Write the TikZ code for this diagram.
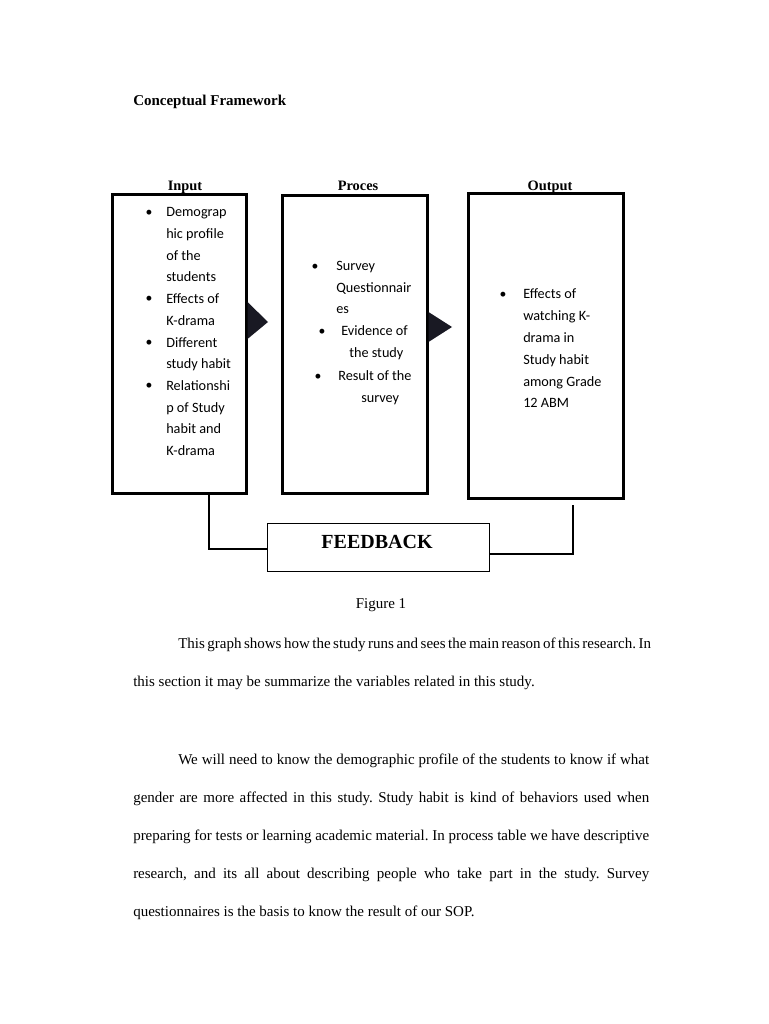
\documentclass[tikz,border=0pt]{standalone}
\usepackage{fontspec}
\setmainfont{Liberation Serif}
\newfontfamily\calibri{Carlito}
\usepackage{tikz}
\frenchspacing

\newcommand\jline[2]{\makebox[#1][s]{#2}}

\begin{document}
\begin{tikzpicture}[x=0.8pt, y=-0.8pt,
    stage/.style={draw, line width=2.4pt, inner sep=0},
    fbbox/.style={draw, line width=0.8pt, inner sep=0},
    headtxt/.style={anchor=base, inner sep=0, font=\bfseries\fontsize{11.5}{13}\selectfont},
    boxtxt/.style={anchor=mid west, inner sep=0, font=\calibri\fontsize{11.4}{13}\selectfont},
    dot/.style={inner sep=0, font=\calibri\fontsize{11}{13}\selectfont},
    bodytxt/.style={anchor=mid west, inner sep=0, font=\fontsize{12}{14}\selectfont},
    link/.style={line width=1.6pt},
    head/.style={fill={rgb,255:red,25;green,25;blue,35}}]

    \useasboundingbox (0,0) rectangle (768,1024);

    % title
    \node[anchor=mid west, inner sep=0, font=\bfseries\fontsize{12}{14}\selectfont] (title) at (133,103) {Conceptual Framework};

    % boxes
    \node[stage, minimum width=107.2pt, minimum height=238.4pt] (inbox) at (179,344) {};
    \node[stage, minimum width=116pt, minimum height=237.6pt] (procbox) at (354.5,344.5) {};
    \node[stage, minimum width=124pt, minimum height=243.2pt] (outbox) at (545.5,346) {};
    \node[fbbox, minimum width=177.6pt, minimum height=38.4pt] (fbbox) at (378,547) {};

    % box headings
    \node[headtxt] (inhead) at (185,191) {Input};
    \node[headtxt] (prochead) at (358,191) {Proces};
    \node[headtxt] (outhead) at (550,191) {Output};
    \node[inner sep=0, font=\bfseries\fontsize{16}{18}\selectfont] (fbtxt) at (377,542) {FEEDBACK};

    % input items
    \foreach \txt [count=\i from 0] in {Demograp, hic profile, of the, students, Effects of, K-drama, Different, study habit, Relationshi, p of Study, habit and, K-drama}
        \node[boxtxt] (in\i) at (166,{214+21.7*\i}) {\txt};
    \foreach \i in {0,4,6,8}
        \node[dot] (inb\i) at (149,{213+21.7*\i}) {\textbullet};

    % process items
    \foreach \x/\y/\txt [count=\i] in {336/268/Survey, 336/290/Questionnair, 336/311/es, 341/333/Evidence of, 349/355/the study, 338/378/Result of the, 361/400/survey}
        \node[boxtxt] (proc\i) at (\x,\y) {\txt};
    \foreach \x/\y [count=\i] in {315/267, 322/332, 318/377}
        \node[dot] (procb\i) at (\x,\y) {\textbullet};

    % output items
    \foreach \txt [count=\i from 0] in {Effects of, watching K-, drama in, Study habit, among Grade, 12 ABM}
        \node[boxtxt] (out\i) at (523,{296+21.8*\i}) {\txt};
    \node[dot] (outb0) at (503,295) {\textbullet};

    % arrow heads
    \fill[head] (inbox.east |- 0,302) -- (268,322) -- (inbox.east |- 0,339) -- cycle;
    \fill[head] (procbox.east |- 0,312) -- (452,327) -- (procbox.east |- 0,342) -- cycle;

    % feedback loop
    \coordinate (fbstart) at (209,493);
    \coordinate (fbend) at (573,505);
    \draw[link] (fbstart) |- ([yshift=-1.6pt]fbbox.west);
    \draw[link] ([yshift=-5.6pt]fbbox.east) -| (fbend);

    % caption
    \node[bodytxt, anchor=center] (caption) at (381,605) {Figure 1};

    % text below
    \node[bodytxt] (p1a) at (178,646) {\jline{376.8pt}{This graph shows how the study runs and sees the main reason of this research. In}};
    \node[bodytxt] (p1b) at (133,684) {this section it may be summarize the variables related in this study.};
    \node[bodytxt] (p2a) at (178,762) {\jline{376.8pt}{We will need to know the demographic profile of the students to know if what}};
    \node[bodytxt] (p2b) at (133,800) {\jline{412.8pt}{gender are more affected in this study. Study habit is kind of behaviors used when}};
    \node[bodytxt] (p2c) at (133,838) {\jline{412.8pt}{preparing for tests or learning academic material. In process table we have descriptive}};
    \node[bodytxt] (p2d) at (133,876) {\jline{412.8pt}{research, and its all about describing people who take part in the study. Survey}};
    \node[bodytxt] (p2e) at (133,914) {questionnaires is the basis to know the result of our SOP.};
\end{tikzpicture}
\end{document}
